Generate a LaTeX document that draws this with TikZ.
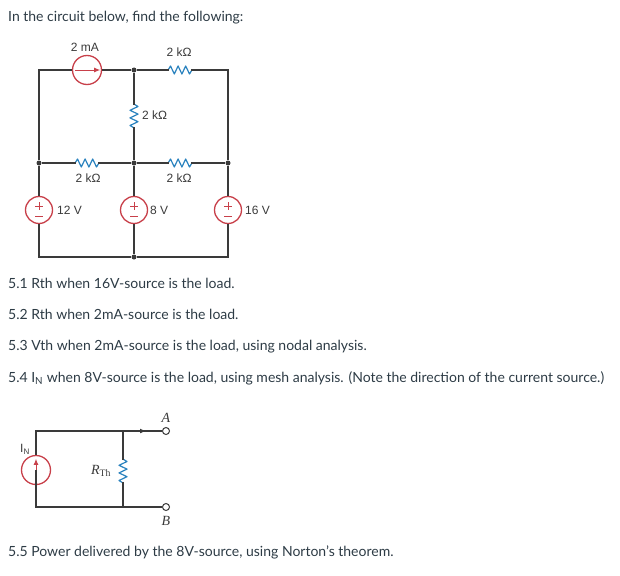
\documentclass[tikz,border=0pt]{standalone}
\usepackage{fontspec}
\setmainfont{Lato}
\newfontfamily\lblfont{Liberation Sans}
\newfontfamily\serfont{Liberation Serif}
\usetikzlibrary{positioning,arrows.meta}
\definecolor{wire}{HTML}{3A3A3A}
\definecolor{srcred}{HTML}{C8404A}
\definecolor{resblue}{HTML}{2A82BE}
\definecolor{bodytext}{HTML}{2D3B45}

\begin{document}
\begin{tikzpicture}[
	x=1pt, y=-1pt,
	wirep/.style={draw=wire, line width=1.4pt},
	jdot/.style={circle, fill=wire, inner sep=0pt, minimum size=5pt},
	para/.style={anchor=base west, inner sep=0pt, text=bodytext, font=\fontsize{14}{16}\selectfont},
	val/.style={inner sep=0pt, text=wire, font=\lblfont\fontsize{12}{13}\selectfont},
	res/.style={rectangle, inner sep=0pt, outer sep=-1pt, minimum width=23.8pt, minimum height=11pt,
		path picture={\draw[resblue, line width=1.2pt, line join=round]
			([xshift=-11.9pt]path picture bounding box.center)
			-- ++(2.4,-4) -- ++(3.8,8) -- ++(3.8,-8) -- ++(3.8,8) -- ++(3.8,-8) -- ++(3.8,8) -- ++(2.4,-4);}},
	vsrc/.style={circle, draw=srcred, line width=1.3pt, fill=white, inner sep=0pt, minimum size=27pt,
		path picture={
			\draw[srcred, line width=0.9pt] ([yshift=4pt]path picture bounding box.center) ++(-4,0) -- ++(8,0) ++(-4,-4) -- ++(0,8);
			\draw[srcred, line width=0.9pt] ([yshift=-6.5pt]path picture bounding box.center) ++(-4,0) -- ++(8,0);}},
	isrc/.style={circle, draw=srcred, line width=1.3pt, fill=white, inner sep=0pt, minimum size=29pt},
	term/.style={circle, draw=wire, line width=1pt, fill=white, inner sep=0pt, minimum size=7pt},
	tip/.style={-{Latex[length=6pt,width=5pt]}}
	]
	\useasboundingbox (0,0) rectangle (620,575);

	% text
	\node (intro) [para] at (8,22) {In the circuit below, find the following:};
	\node (q1) [para] at (8,288) {5.1 Rth when 16V-source is the load.};
	\node (q2) [para] at (8,319) {5.2 Rth when 2mA-source is the load.};
	\node (q3) [para] at (8,350) {5.3 Vth when 2mA-source is the load, using nodal analysis.};
	\node (q4) [para] at (8,382) {5.4 I\textsubscript{N} when 8V-source is the load, using mesh analysis. (Note the direction of the current source.)};
	\node (q5) [para] at (8,556) {5.5 Power delivered by the 8V-source, using Norton's theorem.};

	% upper circuit
	\coordinate (tl) at (39,70);
	\coordinate (tr) at (228,70);
	\coordinate (bl) at (39,257);
	\coordinate (br) at (228,257);
	\node (ntop) [jdot] at (134,70) {};
	\node (nl) [jdot] at (39,163) {};
	\node (nm) [jdot] at (134,163) {};
	\node (nr) [jdot] at (228,163) {};
	\node (nbot) [jdot] at (134,257) {};
	\node (cs1) [isrc] at (87,70) {};
	\node (r1) [res] at (180,70) {};
	\node (r2) [res, rotate=90] at (134,116) {};
	\node (r3) [res] at (87,163) {};
	\node (r4) [res] at (180,163) {};
	\node (v1) [vsrc] at (39,210) {};
	\node (v2) [vsrc] at (134,210) {};
	\node (v3) [vsrc] at (228,210) {};

	\draw[wirep] (cs1) -- (tl) -- (nl) -- (r3) -- (nm) -- (r4) -- (nr) -- (tr) -- (r1) -- (ntop) -- (cs1);
	\draw[wirep] (ntop) -- (r2) -- (nm) -- (v2) -- (nbot);
	\draw[wirep] (nl) -- (v1) -- (bl) -- (nbot) -- (br) -- (v3) -- (nr);
	\draw[srcred, line width=0.9pt, tip] ([xshift=3pt]cs1.west) -- ([xshift=-2pt]cs1.east);

	\node (l1) [val] at (85,47) {2 mA};
	\node (l2) [val] at (179,52) {2 kΩ};
	\node (l3) [val, anchor=west] at (142,115) {2 kΩ};
	\node (l4) [val] at (88,178) {2 kΩ};
	\node (l5) [val] at (179,178) {2 kΩ};
	\node (l6) [val, anchor=west] at (57,210) {12 V};
	\node (l7) [val, anchor=west] at (150,210) {8 V};
	\node (l8) [val, anchor=west] at (245,210) {16 V};

	% lower circuit
	\coordinate (ntl) at (36,431);
	\coordinate (nbl) at (36,507);
	\coordinate (ntm) at (123,431);
	\coordinate (nbm) at (123,507);
	\node (pa) [term] at (166,431) {};
	\node (pb) [term] at (166,507) {};
	\node (in) [isrc] at (36,470) {};
	\node (rth) [res, rotate=90] at (123,471) {};

	\draw[wirep] (in) -- (ntl) -- (ntm) -- (pa);
	\draw[wirep] (in) -- (nbl) -- (nbm) -- (pb);
	\draw[wirep] (ntm) -- (rth) -- (nbm);
	\draw[wirep, tip] (ntm) -- (146,431);
	\draw[wirep] (in.south) -- (in.center);
	\draw[srcred, line width=0.9pt, tip] (in.center) -- ([yshift=-4pt]in.north);

	\node (lin) [val] at (25,449) {I\textsubscript{N}};
	\node (lrth) [inner sep=0pt, text=wire, font=\serfont\fontsize{14}{15}\selectfont] at (101,471) {\textit{R}\textsubscript{Th}};
	\node (la) [inner sep=0pt, text=wire, font=\serfont\itshape\fontsize{14}{15}\selectfont] at (166,418) {A};
	\node (lb) [inner sep=0pt, text=wire, font=\serfont\itshape\fontsize{14}{15}\selectfont] at (166,521) {B};
\end{tikzpicture}
\end{document}
